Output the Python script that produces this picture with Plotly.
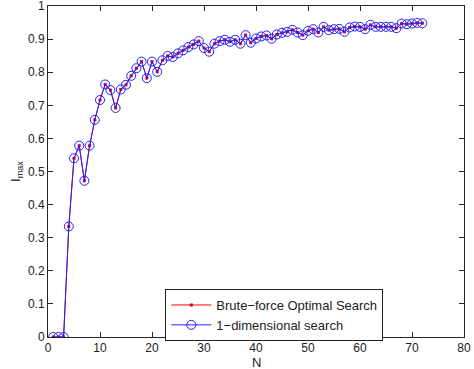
import plotly.graph_objects as go

N = list(range(1, 73))
imax = [0, 0, 0, 0.334, 0.540, 0.578, 0.472, 0.578, 0.656, 0.716,
        0.763, 0.746, 0.692, 0.748, 0.762, 0.789, 0.812, 0.832, 0.782, 0.832,
        0.801, 0.836, 0.849, 0.846, 0.857, 0.866, 0.876, 0.884, 0.894, 0.873,
        0.862, 0.886, 0.894, 0.898, 0.892, 0.898, 0.886, 0.912, 0.889, 0.902,
        0.908, 0.911, 0.901, 0.914, 0.919, 0.922, 0.928, 0.920, 0.912, 0.925,
        0.930, 0.920, 0.937, 0.927, 0.930, 0.931, 0.922, 0.935, 0.938, 0.937,
        0.930, 0.943, 0.937, 0.937, 0.937, 0.937, 0.933, 0.947, 0.945, 0.947,
        0.949, 0.948]
imax_1d = list(imax)

x_ticks = list(range(0, 81, 10))
y_ticks = [round(0.1 * i, 1) for i in range(11)]

fig = go.Figure()
fig.add_trace(go.Scatter(
    x=N, y=imax, mode="lines+markers", name="Brute\u2212force Optimal Search",
    line=dict(color="red", width=1),
    marker=dict(symbol="square", size=3, color="#d0002a"),
))
fig.add_trace(go.Scatter(
    x=N, y=imax_1d, mode="lines+markers", name="1\u2212dimensional search",
    line=dict(color="#2020ff", width=1),
    marker=dict(symbol="circle-open", size=9, color="#2020ff", line=dict(width=1)),
))

FONT = "Liberation Sans, Arial"
axis_common = dict(
    showgrid=False, zeroline=False, showline=True, linecolor="#262626", linewidth=1,
    mirror="ticks", ticks="inside", ticklen=5, tickcolor="#262626",
    tickfont=dict(family=FONT, size=12, color="#222"),
    automargin=False, ticklabeloverflow="allow",
)
fig.update_xaxes(range=[0, 80], tickvals=x_ticks, ticktext=[str(v) for v in x_ticks],
                 **axis_common)
fig.update_yaxes(range=[0, 1], tickvals=y_ticks, ticktext=[("%g" % v) for v in y_ticks],
                 title=dict(text="I<sub>max</sub>", font=dict(family=FONT, size=13, color="#222"), standoff=4),
                 **axis_common)

fig.add_annotation(text="N", xref="paper", yref="paper", x=0.5, y=-0.078,
                   xanchor="center", yanchor="middle", showarrow=False,
                   font=dict(family=FONT, size=13, color="#222"))

fig.update_layout(
    width=474, height=369,
    margin=dict(l=48, r=10, t=6, b=32),
    plot_bgcolor="white", paper_bgcolor="white",
    font=dict(family=FONT, size=12, color="#222"),
    legend=dict(x=0.282, y=0.145, xanchor="left", yanchor="top",
                bordercolor="#222", borderwidth=1, bgcolor="white",
                font=dict(size=13), itemwidth=40, tracegroupgap=0),
    showlegend=True,
)

fig.write_html(
    "out.html",
    config={"displayModeBar": False},
    post_script="document.body.style.margin='0';document.body.style.padding='0';document.body.style.overflow='hidden';",
)
